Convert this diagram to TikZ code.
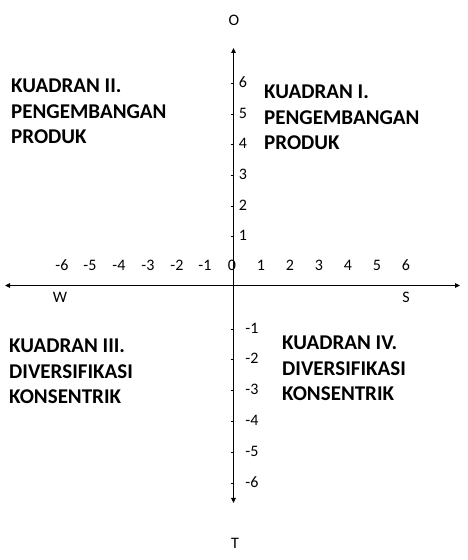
\documentclass[tikz,border=0pt]{standalone}
\usepackage{fontspec}
\setmainfont{Carlito}
\usetikzlibrary{arrows.meta}
\begin{document}
\begin{tikzpicture}[x=1pt,y=1pt,
  axis/.style={line width=0.9pt,{Triangle[width=4.5pt,length=5pt]}-{Triangle[width=4.5pt,length=5pt]}},
  num/.style={font=\fontsize{16}{16}\selectfont,inner sep=0pt},
  dir/.style={font=\fontsize{16}{16}\selectfont,inner sep=0pt},
  quad/.style={font=\fontsize{21}{25.8}\selectfont\bfseries,align=left,anchor=north west,inner sep=0pt},
  tick/.style={line width=0.6pt}]
\useasboundingbox (0,0) rectangle (468,560);
\fill[white] (0,0) rectangle (468,560);
% axes endpoints
\coordinate (L) at (5,274.5);
\coordinate (R) at (460,274.5);
\coordinate (Tp) at (233.5,512);
\coordinate (Bt) at (233.5,57);
\draw[axis] (L) -- (R);
\draw[axis] (Bt) -- (Tp);
% direction labels
\node[dir] (O) at (234,540) {O};
\node[dir] (T) at (235,17) {T};
\node[dir] (W) at (60,263) {W};
\node[dir] (S) at (406,263) {S};
% horizontal numbers
\foreach \v/\x in {-6/62,-5/90,-4/119,-3/148,-2/177,-1/205}
  \node[num] (h\x) at (\x,294.5) {\v};
\node[num] (h0) at (232,294.5) {0};
\foreach \v/\x in {1/261,2/290,3/319,4/348,5/377,6/406}
  \node[num] (hp\v) at (\x,294.5) {\v};
% vertical numbers and ticks
\foreach \v/\y in {6/82,5/113,4/143,3/174,2/205,1/235}{
  \node[num] (vp\v) at (243,560-\y) {\v};
  \draw[tick] (230.5,560-\y-1) -- (233.5,560-\y-1);
}
\foreach \v/\y in {1/328,2/358,3/389,4/420,5/451,6/482}{
  \node[num] (vn\v) at (252,560-\y) {-\v};
  \draw[tick] (230.5,560-\y-1.5) -- (233.5,560-\y-1.5);
}
% quadrant texts
\node[quad] (q2) at (11,481.5) {KUADRAN II.\\PENGEMBANGAN\\PRODUK};
\node[quad] (q1) at (264,475.5) {KUADRAN I.\\PENGEMBANGAN\\PRODUK};
\node[quad] (q3) at (9,221.5) {KUADRAN III.\\DIVERSIFIKASI\\KONSENTRIK};
\node[quad] (q4) at (282,224.5) {KUADRAN IV.\\DIVERSIFIKASI\\KONSENTRIK};
\end{tikzpicture}
\end{document}
